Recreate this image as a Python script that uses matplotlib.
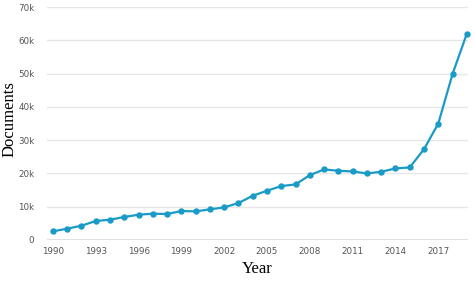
import matplotlib
matplotlib.use('Agg')
import matplotlib.pyplot as plt

# Data
years = list(range(1990, 2020))
documents = [2600, 3400, 4300, 5700, 6100, 6900, 7600, 7900, 7800, 8700,
             8600, 9200, 9800, 11100, 13300, 14800, 16200, 16700, 19500, 21200,
             20800, 20600, 20000, 20500, 21500, 21800, 27300, 35000, 49900, 62000]
x_ticks = [1990, 1993, 1996, 1999, 2002, 2005, 2008, 2011, 2014, 2017]
y_ticks = [0, 10000, 20000, 30000, 40000, 50000, 60000, 70000]
y_tick_labels = ['0', '10k', '20k', '30k', '40k', '50k', '60k', '70k']

line_color = '#1a9bc7'

fig = plt.figure(figsize=(4.74, 2.82), dpi=100)
ax = fig.add_axes([0.099, 0.149, 0.888, 0.826])

ax.plot(years, documents, color=line_color, linewidth=1.6, marker='o',
        markersize=3.6, clip_on=False, zorder=3)

ax.set_xlim(1989.58, 2019.07)
ax.set_ylim(0, 70000)
ax.set_xticks(x_ticks)
ax.set_yticks(y_ticks)
ax.set_yticklabels(y_tick_labels)

ax.grid(axis='y', color='#e6e6e6', linewidth=1.0)
ax.set_axisbelow(True)
for side in ['top', 'right', 'left', 'bottom']:
    ax.spines[side].set_visible(False)
ax.axhline(0, color='#dcdcdc', linewidth=1.2, zorder=1)

ax.tick_params(axis='both', length=0, labelsize=6.3, labelcolor='#555555',
               labelfontfamily='DejaVu Sans')
ax.tick_params(axis='y', pad=9)
ax.tick_params(axis='x', pad=5)

ax.set_xlabel('Year', fontsize=12, family='Liberation Serif', color='black', labelpad=4)
ax.set_ylabel('Documents', fontsize=12, family='Liberation Serif', color='black')
ax.yaxis.set_label_coords(-0.071, 0.52)

fig.savefig('out.png', dpi=100, facecolor='white')
